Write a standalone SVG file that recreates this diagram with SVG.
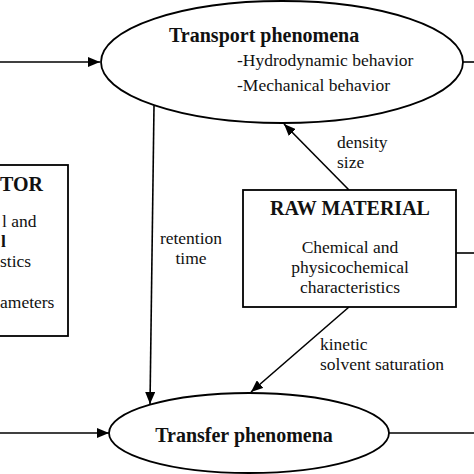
<svg xmlns="http://www.w3.org/2000/svg" width="474" height="474" viewBox="0 0 474 474">
<style>
.s{fill:none;stroke:#000;stroke-width:1.6}
.n{fill:#fff;stroke:#000;stroke-width:1.8}
text{font-family:"Liberation Serif","Times New Roman",serif;fill:#111}
.b{font-weight:bold;font-size:20px}
.r{font-size:17.5px}
.c{text-anchor:middle}
.e{text-anchor:end}
</style>
<defs>
<marker id="ah" viewBox="0 0 12 10" refX="12" refY="5" markerWidth="12" markerHeight="10" markerUnits="userSpaceOnUse" orient="auto">
<path d="M0,0 L12,5 L0,10 Z" fill="#000"/>
</marker>
</defs>
<rect width="474" height="474" fill="#fff"/>
<g id="connectors">
<line class="s" x1="0" y1="62" x2="100" y2="62" marker-end="url(#ah)"/>
<line class="s" x1="463" y1="62" x2="474" y2="62"/>
<line class="s" x1="154" y1="106" x2="150" y2="404" marker-end="url(#ah)"/>
<line class="s" x1="0" y1="433" x2="109" y2="433" marker-end="url(#ah)"/>
<line class="s" x1="389" y1="433" x2="474" y2="433"/>
<line class="s" x1="349" y1="190" x2="284" y2="124" marker-end="url(#ah)"/>
<line class="s" x1="349" y1="307" x2="251" y2="392" marker-end="url(#ah)"/>
<line class="s" x1="456" y1="253" x2="474" y2="253"/>
<text class="r" x="191" y="244" text-anchor="middle">retention</text>
<text class="r" x="191" y="264" text-anchor="middle">time</text>
<text class="r" x="337" y="148">density</text>
<text class="r" x="337" y="168">size</text>
<text class="r" x="320" y="350">kinetic</text>
<text class="r" x="320" y="370">solvent saturation</text>
</g>
<g id="transport">
<ellipse class="n" cx="282" cy="62" rx="181" ry="61"/>
<text class="b" x="169" y="42">Transport phenomena</text>
<text class="r" x="237" y="66">-Hydrodynamic behavior</text>
<text class="r" x="237" y="91">-Mechanical behavior</text>
</g>
<g id="transfer">
<ellipse class="n" cx="249" cy="433" rx="140" ry="40"/>
<text class="b c" x="244" y="442">Transfer phenomena</text>
</g>
<g id="raw-material">
<rect class="n" x="243" y="190" width="213" height="117"/>
<text class="b c" x="350" y="215">RAW MATERIAL</text>
<text class="r c" x="350" y="253">Chemical and</text>
<text class="r c" x="350" y="273">physicochemical</text>
<text class="r c" x="350" y="293">characteristics</text>
</g>
<g id="reactor">
<rect class="n" x="-10" y="165" width="78" height="171"/>
<text class="b" x="0" y="191" style="text-anchor:start" textLength="43">TOR</text>
<text class="r" x="2" y="227">l and</text>
<text class="r" x="1" y="247" font-weight="bold">l</text>
<text class="r" x="0" y="267">stics</text>
<text class="r" x="0" y="308">ameters</text>
</g>
</svg>
